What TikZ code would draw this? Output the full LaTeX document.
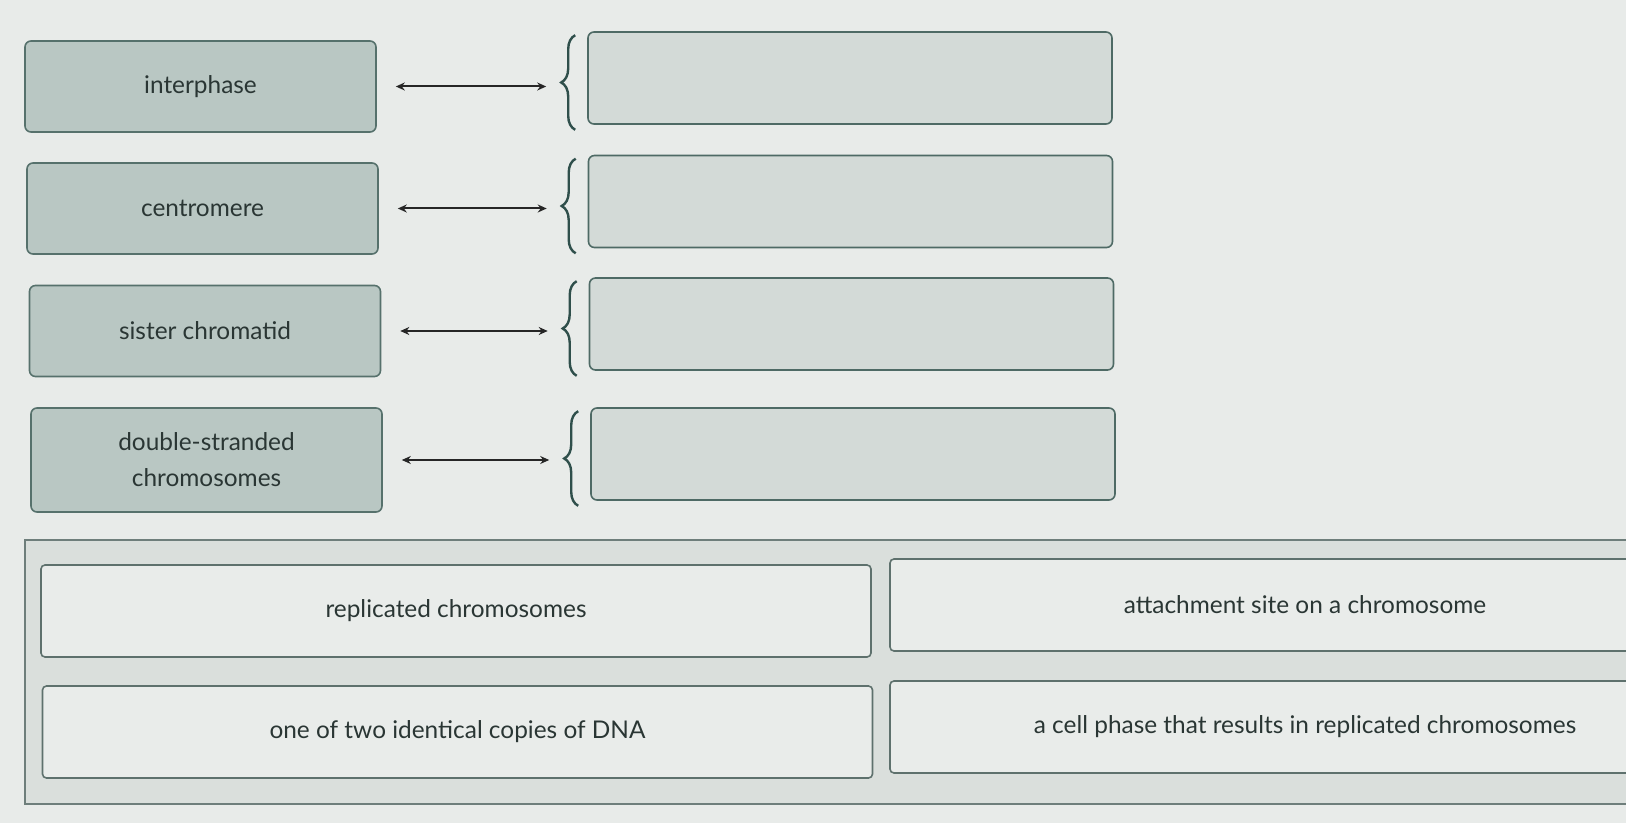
\documentclass[tikz,border=0pt]{standalone}
\usepackage{fontspec}
\setmainfont{Lato}
\usetikzlibrary{arrows.meta,decorations.pathreplacing}

\definecolor{pagebg}{HTML}{E8EBE9}
\definecolor{termfill}{HTML}{B9C7C3}
\definecolor{termline}{HTML}{56716C}
\definecolor{slotfill}{HTML}{D3DAD7}
\definecolor{slotline}{HTML}{4E6A65}
\definecolor{bankfill}{HTML}{DADFDC}
\definecolor{bankline}{HTML}{6E7E7B}
\definecolor{cardfill}{HTML}{E9ECEA}
\definecolor{cardline}{HTML}{5E716D}
\definecolor{bracecol}{HTML}{2F4F4B}
\definecolor{txt}{HTML}{2A3634}

\tikzset{
	term/.style={draw=termline, fill=termfill, rounded corners=3pt, line width=0.8pt, minimum width=175.5pt, minimum height=45.5pt, align=center, text=txt, font=\fontsize{12.2}{18}\selectfont},
	slot/.style={draw=slotline, fill=slotfill, rounded corners=3pt, line width=0.8pt, minimum width=262pt, minimum height=46pt},
	card/.style={draw=cardline, fill=cardfill, rounded corners=2pt, line width=0.8pt, minimum width=415pt, minimum height=46pt, text=txt, font=\fontsize{12.2}{14}\selectfont},
	bank/.style={draw=bankline, fill=bankfill, line width=0.8pt},
	link/.style={{Stealth[length=4.5pt,width=4pt]}-{Stealth[length=4.5pt,width=4pt]}, line width=1pt, black!85, shorten <=9.5pt, shorten >=20.5pt},
	curly/.style={decorate, decoration={brace, amplitude=7pt}, draw=bracecol, line width=1.2pt}
}

\newcommand{\slotbrace}[1]{
	\draw[curly] ([xshift=-6pt,yshift=-2.5pt]#1.south west) -- ([xshift=-6pt,yshift=-2pt]#1.north west);
}

\begin{document}
\begin{tikzpicture}[x=0.5pt, y=-0.5pt]

	\path[use as bounding box, fill=pagebg] (0,0) rectangle (1626,823);
	\clip (0,0) rectangle (1626,823);

	% terms
	\node[term] (t1) at (200.5,86.5) {interphase};
	\node[term] (t2) at (202.5,208.5) {centromere};
	\node[term] (t3) at (205,331) {sister chromatid};
	\node[term, minimum height=52pt] (t4) at (206.5,460) {double-stranded\\chromosomes};

	% empty drop slots
	\node[slot] (d1) at (850,78) {};
	\node[slot] (d2) at (850.5,201.5) {};
	\node[slot] (d3) at (851.5,324) {};
	\node[slot] (d4) at (853,454) {};

	\foreach \i in {1, ..., 4}
		\slotbrace{d\i}
		\draw[link] (t\i.east) -- (t\i.east -| d\i.west);
		; %end for \i

	% answer bank
	\node[bank, minimum width=820pt, minimum height=132pt] (bank) at (845,672) {};

	\node[card] (c1) at (456,611) {replicated chromosomes};
	\node[card] (c2) at (457.5,732) {one of two identical copies of DNA};
	\node[card] (c3) at (1305,605) {attachment site on a chromosome};
	\node[card] (c4) at (1305,727) {a cell phase that results in replicated chromosomes};

\end{tikzpicture}
\end{document}
